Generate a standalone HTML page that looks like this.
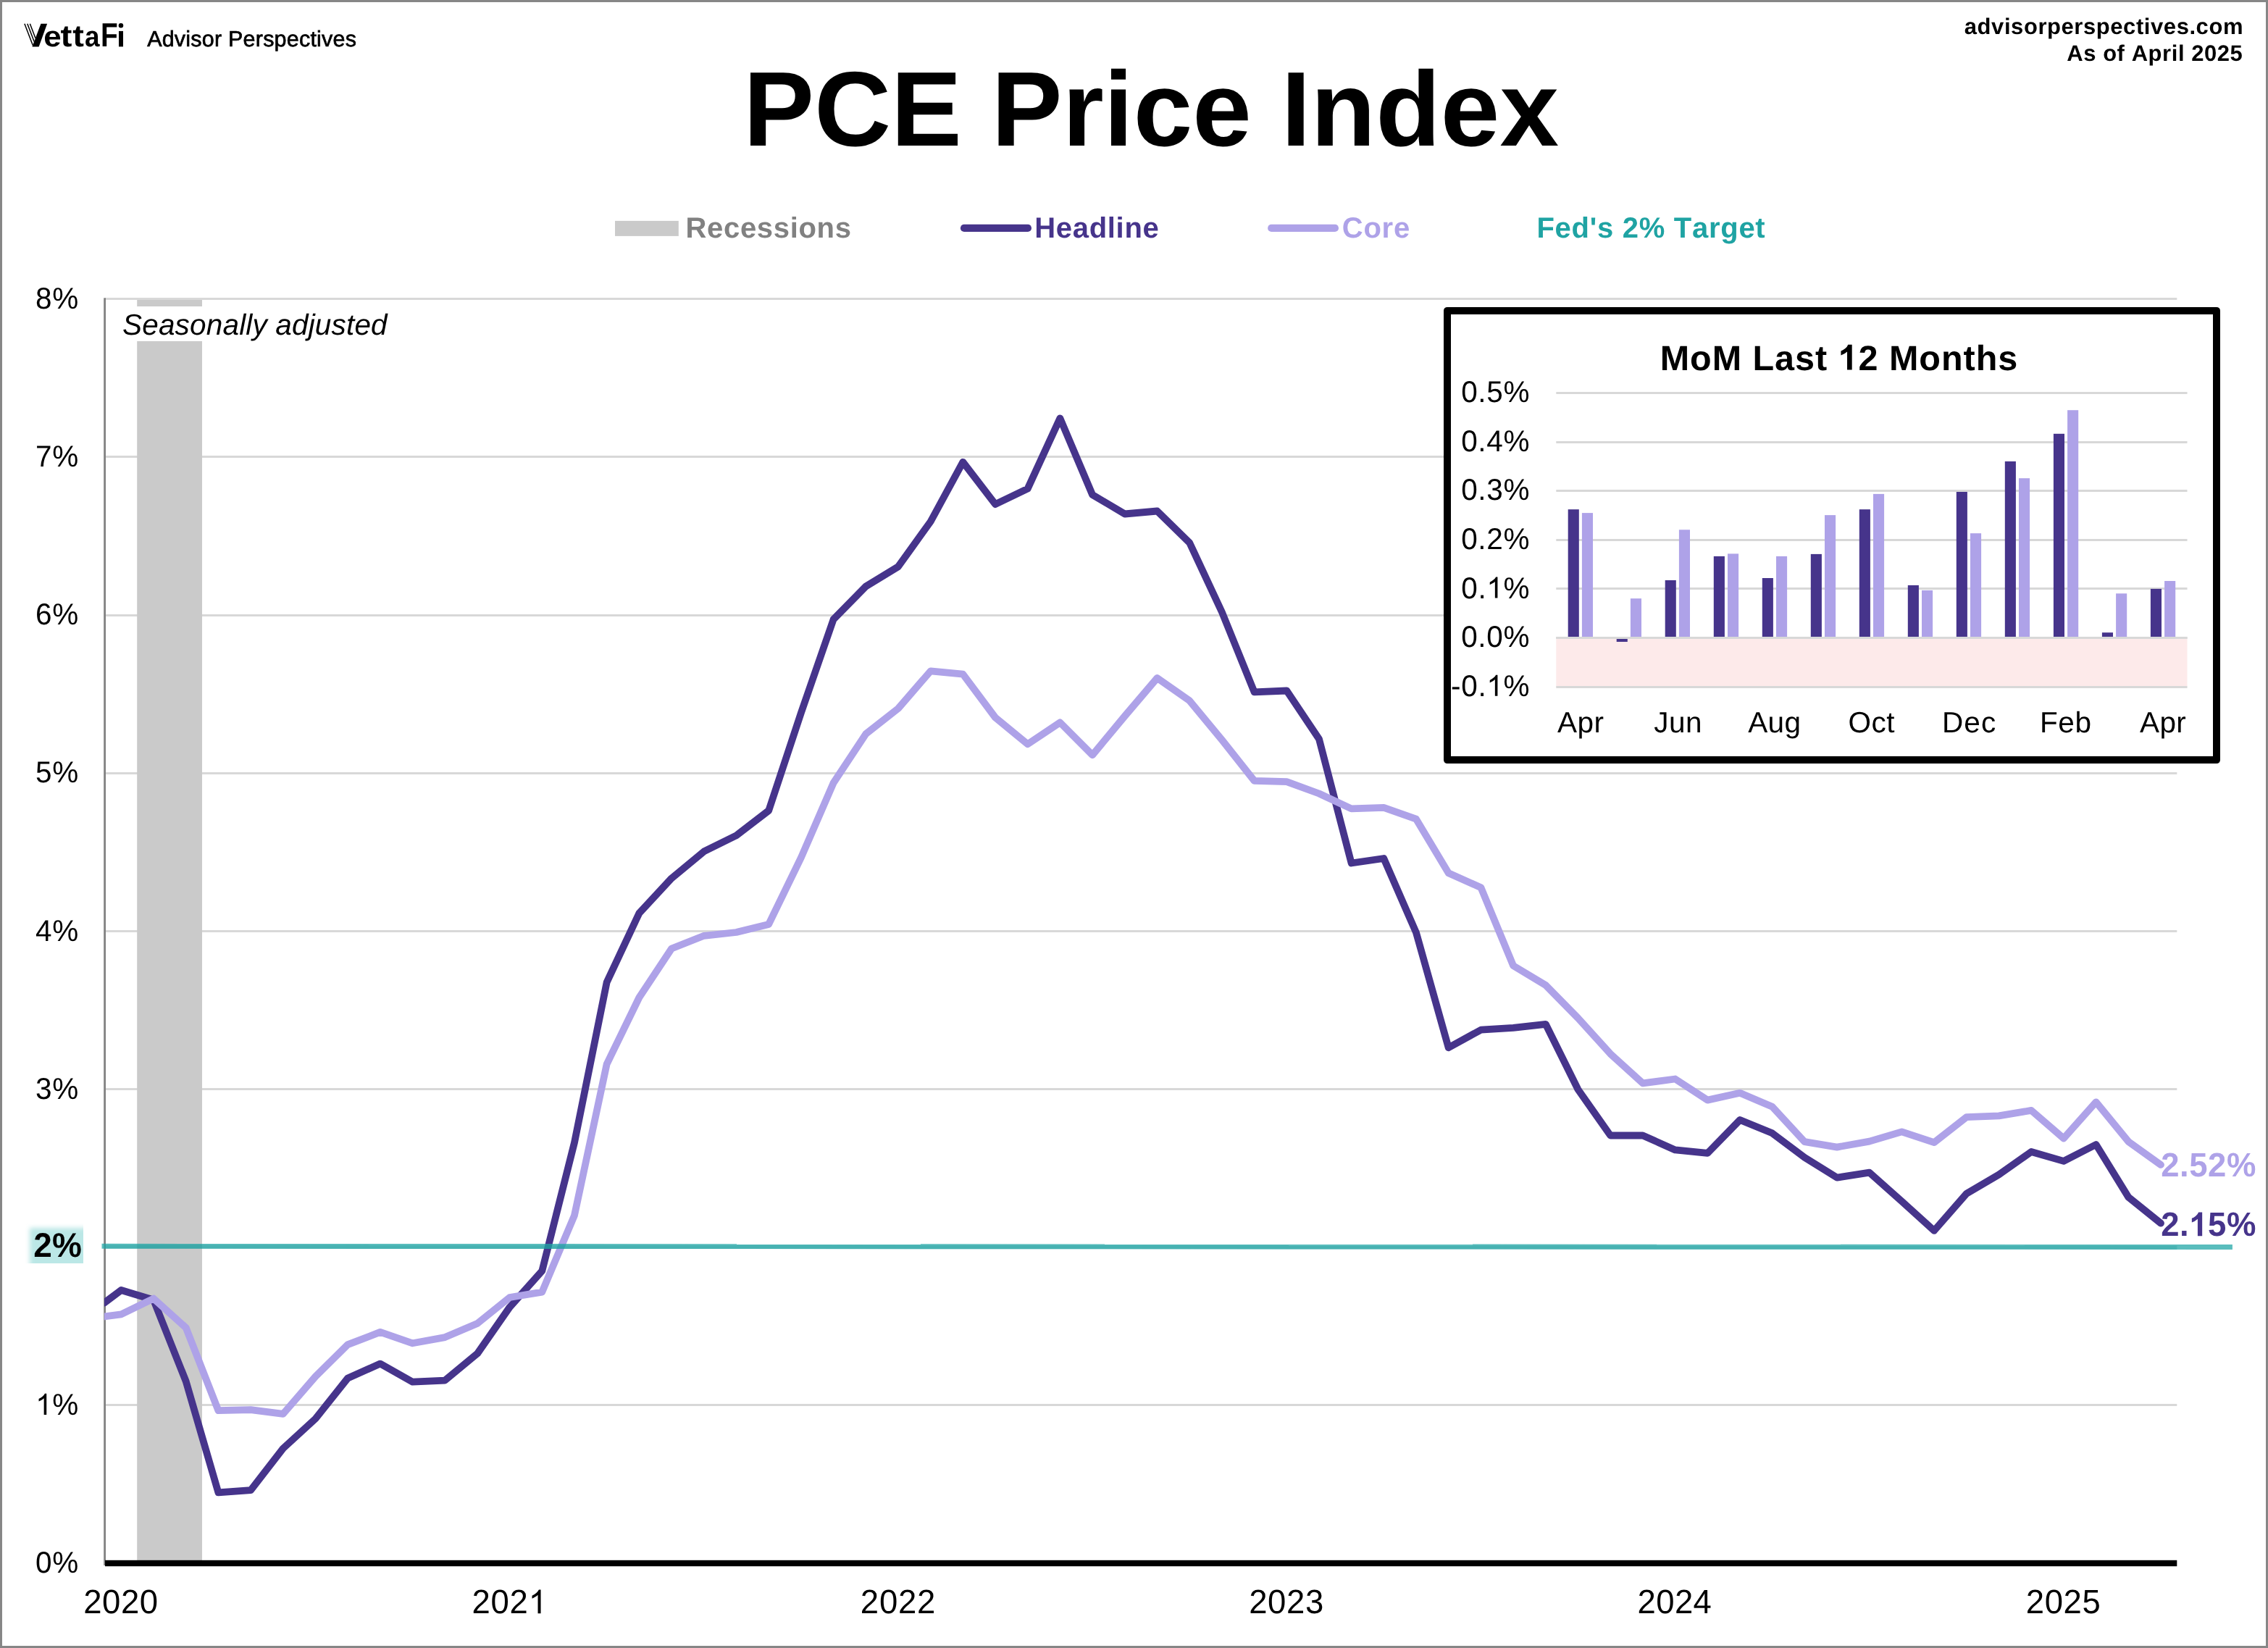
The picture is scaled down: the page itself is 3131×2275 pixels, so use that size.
<!DOCTYPE html>
<html lang="en"><head><meta charset="utf-8"><title>PCE Price Index</title>
<style>html,body{margin:0;padding:0;background:#fff;overflow:hidden;}body{width:3131px;height:2275px;overflow:hidden;font-family:"Liberation Sans",sans-serif;}svg{display:block;will-change:transform;}text{font-family:"Liberation Sans",sans-serif;font-kerning:none;text-rendering:geometricPrecision;white-space:pre;}</style>
</head><body>
<svg width="3131" height="2275" viewBox="0 0 3131 2275">
<defs><filter id="glow" x="-30%" y="-30%" width="160%" height="160%"><feGaussianBlur stdDeviation="3"/></filter>
<clipPath id="glowclip"><rect x="30" y="1684" width="85.1" height="59.9"/></clipPath>
<clipPath id="plotclip"><rect x="144.0" y="380" width="2986.0" height="1790"/></clipPath></defs>
<rect x="0" y="0" width="3131" height="2275" fill="#ffffff"/>
<rect x="1.5" y="1.5" width="3128" height="2272" fill="none" stroke="#868686" stroke-width="3"/>
<rect x="145.0" y="1938" width="2860.3" height="3" fill="#d8d8d8"/>
<rect x="145.0" y="1502" width="2860.3" height="3" fill="#d8d8d8"/>
<rect x="145.0" y="1284" width="2860.3" height="3" fill="#d8d8d8"/>
<rect x="145.0" y="1066" width="2860.3" height="3" fill="#d8d8d8"/>
<rect x="145.0" y="848" width="2860.3" height="3" fill="#d8d8d8"/>
<rect x="145.0" y="629" width="2860.3" height="3" fill="#d8d8d8"/>
<rect x="145.0" y="411" width="2860.3" height="3" fill="#d8d8d8"/>
<rect x="189.2" y="414" width="89.8" height="1744.0" fill="#cacaca"/>
<rect x="160" y="423" width="390" height="48" fill="#ffffff"/>
<rect x="143.2" y="411.3" width="2.8" height="1749.7" fill="#828282"/>
<rect x="145.0" y="2153.8" width="2860.3" height="8.4" fill="#000"/>
<g clip-path="url(#plotclip)" fill="none" stroke-linejoin="round" stroke-linecap="round" stroke-width="9.8">
<polyline stroke="#46348b" points="144.0,1798.5 167.3,1781.0 212.0,1794.5 256.7,1906.9 301.4,2060.4 346.1,2057.2 390.8,1999.5 435.5,1958.5 480.2,1902.4 524.9,1882.6 569.6,1907.7 614.3,1905.6 659.0,1868.6 703.7,1804.4 748.3,1754.5 793.0,1577.2 837.7,1355.8 882.4,1260.6 927.1,1212.4 971.8,1175.4 1016.5,1153.4 1061.2,1119.0 1105.9,984.0 1150.6,855.0 1195.3,809.5 1240.0,782.2 1284.7,720.0 1329.3,637.8 1374.0,696.1 1418.7,674.6 1463.4,577.4 1508.1,683.0 1552.8,709.5 1597.5,705.5 1642.2,749.2 1686.9,845.0 1731.6,955.4 1776.3,953.5 1821.0,1020.2 1865.6,1191.5 1910.3,1185.0 1955.0,1287.4 1999.7,1446.3 2044.4,1421.7 2089.1,1418.8 2133.8,1413.8 2178.5,1504.0 2223.2,1567.5 2267.9,1567.5 2312.6,1587.4 2357.3,1591.9 2402.0,1546.0 2446.6,1564.3 2491.3,1597.9 2536.0,1625.7 2580.7,1618.7 2625.4,1658.4 2670.1,1698.9 2714.8,1647.7 2759.5,1621.5 2804.2,1590.0 2848.9,1602.9 2893.6,1580.0 2938.3,1652.6 2983.0,1688.6"/>
<polyline stroke="#aea2e8" points="144.0,1817.5 167.3,1814.3 212.0,1792.6 256.7,1832.9 301.4,1947.1 346.1,1946.1 390.8,1951.9 435.5,1900.3 480.2,1856.1 524.9,1838.9 569.6,1854.3 614.3,1846.1 659.0,1827.0 703.7,1791.0 748.3,1783.6 793.0,1677.8 837.7,1468.8 882.4,1377.0 927.1,1309.5 971.8,1291.8 1016.5,1287.0 1061.2,1275.9 1105.9,1183.9 1150.6,1080.7 1195.3,1013.2 1240.0,978.0 1284.7,926.4 1329.3,930.6 1374.0,990.5 1418.7,1027.3 1463.4,997.4 1508.1,1042.3 1552.8,988.5 1597.5,936.0 1642.2,967.3 1686.9,1021.4 1731.6,1077.9 1776.3,1079.2 1821.0,1095.5 1865.6,1116.4 1910.3,1114.9 1955.0,1130.7 1999.7,1205.3 2044.4,1225.2 2089.1,1333.1 2133.8,1360.0 2178.5,1405.5 2223.2,1454.8 2267.9,1495.3 2312.6,1489.5 2357.3,1518.6 2402.0,1508.8 2446.6,1527.8 2491.3,1576.2 2536.0,1583.6 2580.7,1575.6 2625.4,1562.4 2670.1,1577.1 2714.8,1542.1 2759.5,1540.4 2804.2,1532.9 2848.9,1571.5 2893.6,1521.3 2938.3,1575.9 2983.0,1607.9"/>
</g>
<polygon points="140.5,1716.83 3081.9,1718.06 3081.9,1724.96 140.5,1723.73" fill="#21a6a6" fill-opacity="0.74"/>
<polygon points="145.0,1718.48 3005.3,1719.68 3005.3,1724.93 145.0,1723.73" fill="#149696" fill-opacity="0.28"/>
<text x="1026.30" y="200.8" font-size="146.5" font-weight="bold" font-style="normal" fill="#000" letter-spacing="0.145" >PCE Price Index</text>
<text x="2711.79" y="47.4" font-size="31" font-weight="bold" font-style="normal" fill="#000" letter-spacing="0.570" >advisorperspectives.com</text>
<text x="2853.23" y="84.1" font-size="31" font-weight="bold" font-style="normal" fill="#000" letter-spacing="0.556" >As of April 2025</text>
<text x="203.14" y="64.4" font-size="30.5" font-weight="normal" font-style="normal" fill="#000" letter-spacing="0.215" stroke="#000" stroke-width="0.7">Advisor Perspectives</text>
<g id="logo" fill="#000">
<polygon points="56.45,32.7 65.13,32.7 53.63,64.4 44.46,64.4"/>
<g stroke="#000" stroke-width="1.5" fill="none"><line x1="33.9" y1="32.7" x2="45.3" y2="62.6"/><line x1="37.76" y1="32.7" x2="47.2" y2="57.5"/><line x1="41.35" y1="32.7" x2="49.0" y2="52.7"/></g>
<text transform="translate(60.24,64.41) scale(0.4380,0.3997)" font-size="100" font-weight="bold" x="0" y="0" >e</text>
<text transform="translate(83.52,64.43) scale(0.4764,0.4220)" font-size="100" font-weight="bold" x="0" y="0" >t</text>
<text transform="translate(100.33,64.43) scale(0.4699,0.4220)" font-size="100" font-weight="bold" x="0" y="0" >t</text>
<text transform="translate(117.12,64.41) scale(0.3695,0.3997)" font-size="100" font-weight="bold" x="0" y="0" >a</text>
<text transform="translate(138.90,64.40) scale(0.3883,0.4608)" font-size="100" font-weight="bold" x="0" y="0" >F</text>
<rect x="164" y="42.9" width="6" height="21.5"/><circle cx="166.95" cy="35.3" r="3.25"/>
</g>
<rect x="849" y="304.9" width="87.8" height="21" fill="#cacaca"/>
<text x="946.52" y="327.6" font-size="40" font-weight="bold" font-style="normal" fill="#818181" letter-spacing="0.675" >Recessions</text>
<line x1="1331" y1="314.9" x2="1418.9" y2="314.9" stroke="#46348b" stroke-width="10.2" stroke-linecap="round"/>
<text x="1428.32" y="327.6" font-size="40" font-weight="bold" font-style="normal" fill="#46348b" letter-spacing="0.675" >Headline</text>
<line x1="1755.2" y1="314.9" x2="1842.9" y2="314.9" stroke="#aea2e8" stroke-width="10.2" stroke-linecap="round"/>
<text x="1852.76" y="327.6" font-size="40" font-weight="bold" font-style="normal" fill="#aea2e8" letter-spacing="0.758" >Core</text>
<text x="2121.42" y="327.6" font-size="40" font-weight="bold" font-style="normal" fill="#1fa3a3" letter-spacing="0.722" >Fed's 2% Target</text>
<text x="169.05" y="461.7" font-size="40.5" font-weight="normal" font-style="italic" fill="#000" letter-spacing="0.171" >Seasonally adjusted</text>
<text x="49.12" y="2171.1" font-size="40.5" font-weight="normal" font-style="normal" fill="#000" letter-spacing="0.688"  transform="matrix(1 0 0 1.026 0 -56.449)">0%</text>
<text x="72.33" y="1952.9" font-size="40.5" font-weight="normal" font-style="normal" fill="#000"  transform="matrix(1 0 0 1.026 0 -50.775)">%</text>
<path transform="translate(49.12,1952.9) scale(0.01978,-0.01978)" d="M763 0H583V1147Q518 1085 412.5 1023Q307 961 223 930V1104Q374 1175 487 1276Q600 1377 647 1472H763Z" fill="#000"/>
<text x="49.12" y="1516.6" font-size="40.5" font-weight="normal" font-style="normal" fill="#000" letter-spacing="0.688"  transform="matrix(1 0 0 1.026 0 -39.432)">3%</text>
<text x="49.12" y="1298.5" font-size="40.5" font-weight="normal" font-style="normal" fill="#000" letter-spacing="0.688"  transform="matrix(1 0 0 1.026 0 -33.761)">4%</text>
<text x="49.12" y="1080.3" font-size="40.5" font-weight="normal" font-style="normal" fill="#000" letter-spacing="0.688"  transform="matrix(1 0 0 1.026 0 -28.088)">5%</text>
<text x="49.12" y="862.2" font-size="40.5" font-weight="normal" font-style="normal" fill="#000" letter-spacing="0.688"  transform="matrix(1 0 0 1.026 0 -22.417)">6%</text>
<text x="49.12" y="644.1" font-size="40.5" font-weight="normal" font-style="normal" fill="#000" letter-spacing="0.688"  transform="matrix(1 0 0 1.026 0 -16.747)">7%</text>
<text x="49.12" y="425.9" font-size="40.5" font-weight="normal" font-style="normal" fill="#000" letter-spacing="0.688"  transform="matrix(1 0 0 1.026 0 -11.073)">8%</text>
<g clip-path="url(#glowclip)"><rect x="41" y="1695" width="90" height="70" fill="#bbe7e6" filter="url(#glow)"/></g>
<text x="46.31" y="1735" font-size="46" font-weight="bold" font-style="normal" fill="#000" letter-spacing="0.223"  transform="matrix(1 0 0 1.026 0 -45.110)">2%</text>
<text x="115.26" y="2227.3" font-size="45.5" font-weight="normal" font-style="normal" fill="#000" letter-spacing="0.549"  transform="matrix(1 0 0 1.026 0 -57.910)">2020</text>
<text x="651.56 677.57 703.57" y="2227.3" font-size="45.5" font-weight="normal" font-style="normal" fill="#000"  transform="matrix(1 0 0 1.026 0 -57.910)">202</text>
<path transform="translate(729.57,2227.3) scale(0.02222,-0.02222)" d="M763 0H583V1147Q518 1085 412.5 1023Q307 961 223 930V1104Q374 1175 487 1276Q600 1377 647 1472H763Z" fill="#000"/>
<text x="1187.87" y="2227.3" font-size="45.5" font-weight="normal" font-style="normal" fill="#000" letter-spacing="0.719"  transform="matrix(1 0 0 1.026 0 -57.910)">2022</text>
<text x="1724.18" y="2227.3" font-size="45.5" font-weight="normal" font-style="normal" fill="#000" letter-spacing="0.623"  transform="matrix(1 0 0 1.026 0 -57.910)">2023</text>
<text x="2260.48" y="2227.3" font-size="45.5" font-weight="normal" font-style="normal" fill="#000" letter-spacing="0.401"  transform="matrix(1 0 0 1.026 0 -57.910)">2024</text>
<text x="2796.79" y="2227.3" font-size="45.5" font-weight="normal" font-style="normal" fill="#000" letter-spacing="0.593"  transform="matrix(1 0 0 1.026 0 -57.910)">2025</text>
<text x="2983.22" y="1623.9" font-size="45.5" font-weight="bold" font-style="normal" fill="#aea2e8" letter-spacing="0.541"  transform="matrix(1 0 0 1.026 0 -42.221)">2.52%</text>
<text x="2983.22 3009.07 3048.10 3073.94" y="1706.2" font-size="45.5" font-weight="bold" font-style="normal" fill="#46348b"  transform="matrix(1 0 0 1.026 0 -44.361)">2.5%</text>
<path transform="translate(3022.25,1706.2) scale(0.02222,-0.02222)" d="M806 0H525V1059Q371 915 162 846V1101Q272 1137 401 1237.5Q530 1338 578 1472H806Z" fill="#46348b"/>
<rect x="1998" y="428.9" width="1062" height="620.2" fill="#ffffff" stroke="#000" stroke-width="10" stroke-linejoin="round"/>
<text x="2291.66 2333.04 2363.65 2405.03 2419.49 2450.10 2478.05 2506.01 2523.14 2565.56 2593.51 2607.97 2649.36 2679.96 2710.57 2727.71 2758.32" y="510.5" font-size="48.5" font-weight="bold" font-style="normal" fill="#000" >MoM Last 2 Months</text>
<path transform="translate(2537.60,510.5) scale(0.02368,-0.02368)" d="M806 0H525V1059Q371 915 162 846V1101Q272 1137 401 1237.5Q530 1338 578 1472H806Z" fill="#000"/>
<rect x="2148.3" y="880.6" width="871.2" height="67.62" fill="#fdeaea"/>
<rect x="2148.3" y="947" width="871.2" height="3" fill="#d8d8d8"/>
<text x="2002.99 2017.17 2040.38 2075.53" y="960.8" font-size="40.5" font-weight="normal" font-style="normal" fill="#000"  transform="matrix(1 0 0 1.026 0 -24.981)">-0.%</text>
<path transform="translate(2052.32,960.8) scale(0.01978,-0.01978)" d="M763 0H583V1147Q518 1085 412.5 1023Q307 961 223 930V1104Q374 1175 487 1276Q600 1377 647 1472H763Z" fill="#000"/>
<rect x="2148.3" y="879" width="871.2" height="3" fill="#d8d8d8"/>
<text x="2017.17" y="893.2" font-size="40.5" font-weight="normal" font-style="normal" fill="#000" letter-spacing="0.688"  transform="matrix(1 0 0 1.026 0 -23.223)">0.0%</text>
<rect x="2148.3" y="811" width="871.2" height="3" fill="#d8d8d8"/>
<text x="2017.17 2040.38 2075.53" y="825.6" font-size="40.5" font-weight="normal" font-style="normal" fill="#000"  transform="matrix(1 0 0 1.026 0 -21.466)">0.%</text>
<path transform="translate(2052.32,825.6) scale(0.01978,-0.01978)" d="M763 0H583V1147Q518 1085 412.5 1023Q307 961 223 930V1104Q374 1175 487 1276Q600 1377 647 1472H763Z" fill="#000"/>
<rect x="2148.3" y="744" width="871.2" height="3" fill="#d8d8d8"/>
<text x="2017.17" y="758.0" font-size="40.5" font-weight="normal" font-style="normal" fill="#000" letter-spacing="0.688"  transform="matrix(1 0 0 1.026 0 -19.708)">0.2%</text>
<rect x="2148.3" y="676" width="871.2" height="3" fill="#d8d8d8"/>
<text x="2017.17" y="690.3" font-size="40.5" font-weight="normal" font-style="normal" fill="#000" letter-spacing="0.688"  transform="matrix(1 0 0 1.026 0 -17.948)">0.3%</text>
<rect x="2148.3" y="609" width="871.2" height="3" fill="#d8d8d8"/>
<text x="2017.17" y="622.7" font-size="40.5" font-weight="normal" font-style="normal" fill="#000" letter-spacing="0.688"  transform="matrix(1 0 0 1.026 0 -16.190)">0.4%</text>
<rect x="2148.3" y="541" width="871.2" height="3" fill="#d8d8d8"/>
<text x="2017.17" y="555.1" font-size="40.5" font-weight="normal" font-style="normal" fill="#000" letter-spacing="0.688"  transform="matrix(1 0 0 1.026 0 -14.433)">0.5%</text>
<rect x="2164.7" y="703.2" width="15.1" height="177.4" fill="#46348b"/>
<rect x="2183.9" y="708.1" width="15.1" height="172.5" fill="#aea2e8"/>
<rect x="2231.7" y="880.6" width="15.1" height="5.4" fill="#46348b"/>
<rect x="2250.9" y="826.2" width="15.1" height="54.4" fill="#aea2e8"/>
<rect x="2298.7" y="801.0" width="15.1" height="79.6" fill="#46348b"/>
<rect x="2317.9" y="731.3" width="15.1" height="149.3" fill="#aea2e8"/>
<rect x="2365.8" y="767.9" width="15.1" height="112.7" fill="#46348b"/>
<rect x="2385.0" y="764.4" width="15.1" height="116.2" fill="#aea2e8"/>
<rect x="2432.8" y="798.0" width="15.1" height="82.6" fill="#46348b"/>
<rect x="2452.0" y="767.9" width="15.1" height="112.7" fill="#aea2e8"/>
<rect x="2499.8" y="764.9" width="15.1" height="115.7" fill="#46348b"/>
<rect x="2519.0" y="711.1" width="15.1" height="169.5" fill="#aea2e8"/>
<rect x="2566.8" y="703.2" width="15.1" height="177.4" fill="#46348b"/>
<rect x="2586.0" y="681.9" width="15.1" height="198.7" fill="#aea2e8"/>
<rect x="2633.8" y="807.9" width="15.1" height="72.7" fill="#46348b"/>
<rect x="2653.0" y="814.9" width="15.1" height="65.7" fill="#aea2e8"/>
<rect x="2700.8" y="679.0" width="15.1" height="201.6" fill="#46348b"/>
<rect x="2720.0" y="736.2" width="15.1" height="144.4" fill="#aea2e8"/>
<rect x="2767.8" y="636.9" width="15.1" height="243.7" fill="#46348b"/>
<rect x="2787.0" y="660.2" width="15.1" height="220.4" fill="#aea2e8"/>
<rect x="2834.9" y="598.8" width="15.1" height="281.8" fill="#46348b"/>
<rect x="2854.1" y="566.2" width="15.1" height="314.4" fill="#aea2e8"/>
<rect x="2901.9" y="873.2" width="15.1" height="7.4" fill="#46348b"/>
<rect x="2921.1" y="819.3" width="15.1" height="61.3" fill="#aea2e8"/>
<rect x="2968.9" y="812.9" width="15.1" height="67.7" fill="#46348b"/>
<rect x="2988.1" y="802.0" width="15.1" height="78.6" fill="#aea2e8"/>
<rect x="2148.3" y="879" width="871.2" height="3" fill="#d8d8d8"/>
<text x="2149.92" y="1010.6" font-size="40.5" font-weight="normal" font-style="normal" fill="#000" letter-spacing="0.564" >Apr</text>
<text x="2283.27" y="1010.6" font-size="40.5" font-weight="normal" font-style="normal" fill="#000" letter-spacing="0.432" >Jun</text>
<text x="2413.32" y="1010.6" font-size="40.5" font-weight="normal" font-style="normal" fill="#000" letter-spacing="0.264" >Aug</text>
<text x="2551.38" y="1010.6" font-size="40.5" font-weight="normal" font-style="normal" fill="#000" letter-spacing="0.555" >Oct</text>
<text x="2680.88" y="1010.6" font-size="40.5" font-weight="normal" font-style="normal" fill="#000" letter-spacing="1.134" >Dec</text>
<text x="2815.98" y="1010.6" font-size="40.5" font-weight="normal" font-style="normal" fill="#000" letter-spacing="0.618" >Feb</text>
<text x="2954.02" y="1010.6" font-size="40.5" font-weight="normal" font-style="normal" fill="#000" letter-spacing="0.364" >Apr</text>
</svg>
</body></html>
